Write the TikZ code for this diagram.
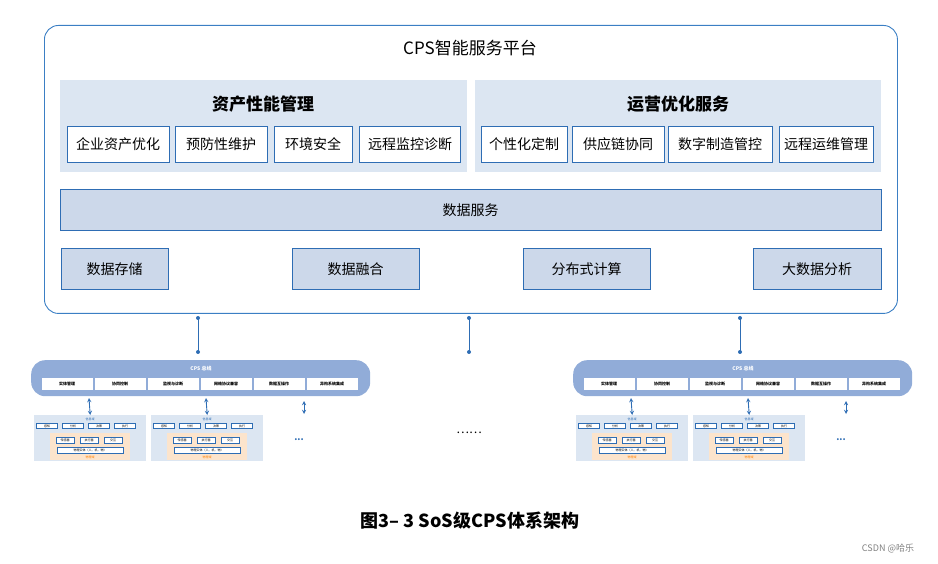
\documentclass[tikz,border=0pt]{standalone}
\usepackage{fontspec}
\setmainfont{Noto Sans CJK SC}
\usetikzlibrary{positioning}
\definecolor{frame}{HTML}{3B7FC4}
\definecolor{panel}{HTML}{DCE6F2}
\definecolor{svc}{HTML}{CCD8EA}
\definecolor{bus}{HTML}{91ACD8}
\definecolor{phys}{HTML}{FCE4CC}
\definecolor{edge}{HTML}{2E6DB4}
\begin{document}
\begin{tikzpicture}[x=1pt,y=-1pt,
  cell/.style={draw=edge, line width=0.8pt, fill=white, minimum height=36pt, inner sep=0pt, font=\fontsize{14}{14}\selectfont},
  big/.style={draw=edge, line width=0.6pt, fill=svc, minimum height=41pt, inner sep=0pt, font=\fontsize{14}{14}\selectfont},
  bcell/.style={fill=white, minimum height=12pt, minimum width=51pt, inner sep=0pt, font=\fontsize{4}{4}\selectfont\bfseries},
  tiny/.style={draw=edge, line width=0.8pt, fill=white, inner sep=0pt, font=\fontsize{3}{3}\selectfont},
  link/.style={edge, line width=0.9pt},
  dot/.style={circle, fill=edge, inner sep=0pt, minimum size=4pt}]
\useasboundingbox (0,0) rectangle (938,564);
% platform
\node[draw=frame, line width=0.9pt, rounded corners=14pt, minimum width=853pt, minimum height=288pt, anchor=north west] (plat) at (44,25) {};
\node[font=\fontsize{17}{17}\selectfont] (ptitle) at (470,48) {CPS智能服务平台};
\node[fill=panel, minimum width=407pt, minimum height=92pt, anchor=north west] (pa) at (60,80) {};
\node[fill=panel, minimum width=406pt, minimum height=92pt, anchor=north west] (pb) at (475,80) {};
\node[font=\fontsize{17}{17}\selectfont\bfseries] at (263,104) {资产性能管理};
\node[font=\fontsize{17}{17}\selectfont\bfseries] at (678,104) {运营优化服务};
\node[cell, minimum width=102pt] (a1) at (118,144) {企业资产优化};
\node[cell, minimum width=92pt] (a2) at (221,144) {预防性维护};
\node[cell, minimum width=78pt] (a3) at (313,144) {环境安全};
\node[cell, minimum width=101pt] (a4) at (410,144) {远程监控诊断};
\node[cell, minimum width=86pt] (b1) at (524,144) {个性化定制};
\node[cell, minimum width=92pt] (b2) at (618,144) {供应链协同};
\node[cell, minimum width=104pt] (b3) at (720,144) {数字制造管控};
\node[cell, minimum width=94pt] (b4) at (826,144) {远程运维管理};
\node[big, minimum width=821pt] (ds) at (470.5,210) {数据服务};
\node[big, minimum width=107pt] (d1) at (114.5,269) {数据存储};
\node[big, minimum width=127pt] (d2) at (355.5,269) {数据融合};
\node[big, minimum width=127pt] (d3) at (586.5,269) {分布式计算};
\node[big, minimum width=128pt] (d4) at (817,269) {大数据分析};
% links to buses
\coordinate (t1) at (198,318); \coordinate (t2) at (469,318); \coordinate (t3) at (740,318);
\coordinate (e1) at (198,352); \coordinate (e2) at (469,352); \coordinate (e3) at (740,352);
\foreach \i in {1,2,3}{\draw[link] (t\i) -- (e\i); \node[dot] at (t\i) {}; \node[dot] at (e\i) {};}
\node[font=\fontsize{12}{12}\selectfont] (gap) at (469,433) {……};
% two bus groups
\foreach \g/\ox in {L/31,R/573}{
  \node[fill=bus, rounded corners=14pt, minimum width=339pt, minimum height=36pt, anchor=north west] (bus\g) at (\ox,360) {};
  \node[white, font=\fontsize{5}{5}\selectfont\bfseries] at ({\ox+170},369) {CPS 总线};
  \foreach \t [count=\k] in {实体管理,协同控制,监视与诊断,网络协议兼容,数据互操作,异构系统集成}
    \node[bcell] (bc\g\k) at ({\ox+36+53*(\k-1)},384) {\t};
  \foreach \u/\dx in {1/0,2/117}{
    \node[fill=panel, minimum width=112pt, minimum height=46pt, anchor=north west] (u\g\u) at ({\ox+3+\dx},415) {};
    \coordinate (v\g\u) at ({\ox+58+\dx},398);
    \draw[link, <->, >=stealth] (v\g\u) -- (u\g\u.north);
    \node[edge, font=\fontsize{3}{3}\selectfont] at ({\ox+59+\dx},419) {信息域};
    \foreach \t [count=\k] in {感知,分析,决策,执行}
      \node[tiny, minimum width=21pt, minimum height=5pt] (s\g\u\k) at ({\ox+16+26*(\k-1)+\dx},426) {\t};
    \node[fill=phys, minimum width=80pt, minimum height=27pt, anchor=north west] (p\g\u) at ({\ox+19+\dx},433) {};
    \foreach \t [count=\k] in {传感器,执行器,交互}
      \node[tiny, minimum width=18pt, minimum height=6pt] (q\g\u\k) at ({\ox+34+24*(\k-1)+\dx},440) {\t};
    \node[tiny, minimum width=66pt, minimum height=6pt] (r\g\u) at ({\ox+59+\dx},450) {物理实体（人、机、物）};
    \node[orange, font=\fontsize{3}{3}\selectfont] at ({\ox+59+\dx},457) {物理域};
  }
  \coordinate (w\g a) at ({\ox+273},401); \coordinate (w\g b) at ({\ox+273},414);
  \draw[link, <->, >=stealth] (w\g a) -- (w\g b);
  \node[edge, font=\fontsize{9}{9}\selectfont\bfseries] at ({\ox+268},440) {...};
}
\node[font=\fontsize{18}{18}\selectfont\bfseries] (cap) at (470,521) {图3– 3 SoS级CPS体系架构};
\node[gray, font=\fontsize{9}{9}\selectfont] (wm) at (888,549) {CSDN @哈乐};
\end{tikzpicture}
\end{document}
